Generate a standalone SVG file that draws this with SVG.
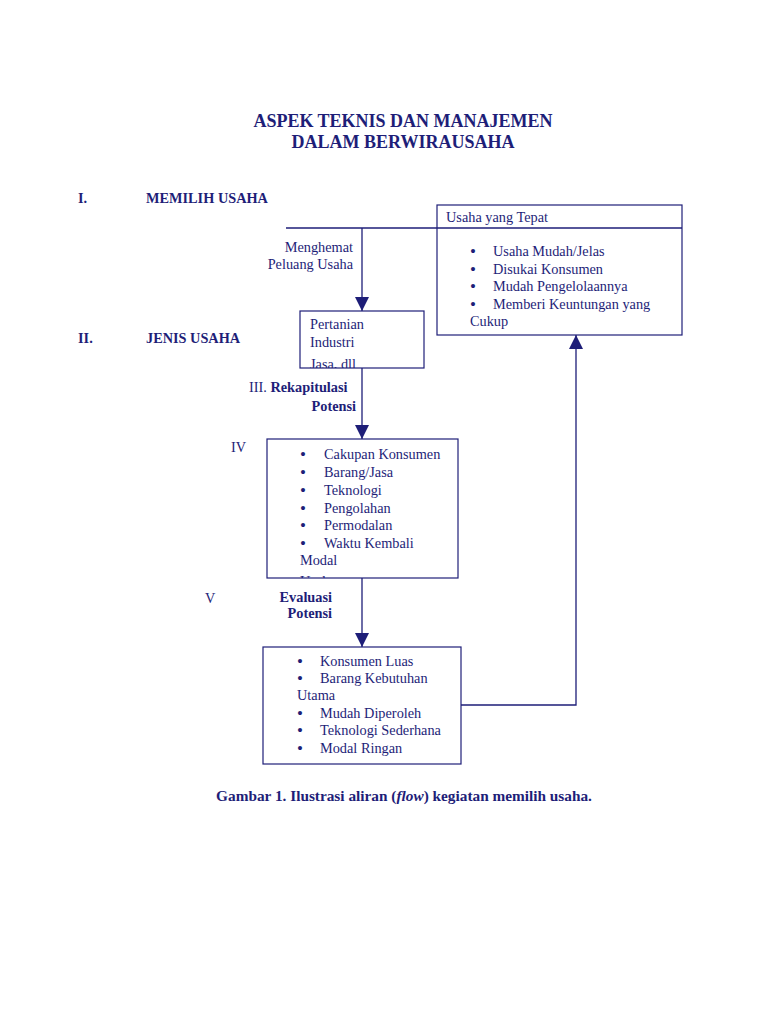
<svg xmlns="http://www.w3.org/2000/svg" width="768" height="1024" viewBox="0 0 768 1024">
<style>
text{font-family:"Liberation Serif","Times New Roman",serif;fill:#1e1e78;font-size:14.3px}
.b{font-weight:bold}
.t{font-weight:bold;font-size:18px}
.c{font-weight:bold;font-size:15.3px}
.r{text-anchor:end}
.d{font-size:17px}
.box{fill:#fff;stroke:#1e1e78;stroke-width:1.2}
.ln{fill:none;stroke:#1e1e78;stroke-width:1.3}
</style>
<defs>
<marker id="ah" viewBox="0 0 14 14" refX="14" refY="7" markerWidth="14" markerHeight="14" markerUnits="userSpaceOnUse" orient="auto">
<path d="M0,0 L14,7 L0,14 Z" fill="#1e1e78"/>
</marker>
<clipPath id="c1"><rect x="300" y="311" width="124" height="57"/></clipPath>
<clipPath id="c2"><rect x="267" y="439" width="191" height="139"/></clipPath>
</defs>
<rect width="768" height="1024" fill="#fff"/>
<g id="title">
<text class="t" x="403" y="127" text-anchor="middle">ASPEK TEKNIS DAN MANAJEMEN</text>
<text class="t" x="403" y="148" text-anchor="middle">DALAM BERWIRAUSAHA</text>
</g>
<g id="labels">
<text class="b" x="78" y="203">I.</text>
<text class="b" x="146" y="203">MEMILIH USAHA</text>
<text class="b" x="78" y="343">II.</text>
<text class="b" x="146" y="343">JENIS USAHA</text>
<text class="r" x="353" y="252">Menghemat</text>
<text class="r" x="353" y="269">Peluang Usaha</text>
<text x="249" y="392">III. <tspan class="b">Rekapitulasi</tspan></text>
<text class="b r" x="356" y="411">Potensi</text>
<text x="231" y="452">IV</text>
<text x="205" y="603">V</text>
<text class="b r" x="332" y="602">Evaluasi</text>
<text class="b r" x="332" y="618">Potensi</text>
</g>
<g id="connectors">
<path class="ln" d="M286,228 H437"/>
<path class="ln" d="M362,228 V311" marker-end="url(#ah)"/>
<path class="ln" d="M362,368 V439" marker-end="url(#ah)"/>
<path class="ln" d="M362,578 V647" marker-end="url(#ah)"/>
<path class="ln" d="M461,705 H576 V335" marker-end="url(#ah)"/>
</g>
<g id="usaha-tepat">
<rect class="box" x="437" y="205" width="245" height="130"/>
<line class="ln" x1="437" y1="228" x2="682" y2="228"/>
<text x="446" y="222">Usaha yang Tepat</text>
<text class="d" x="470" y="257">•</text><text x="493" y="256">Usaha Mudah/Jelas</text>
<text class="d" x="470" y="275">•</text><text x="493" y="274">Disukai Konsumen</text>
<text class="d" x="470" y="292">•</text><text x="493" y="291">Mudah Pengelolaannya</text>
<text class="d" x="470" y="310">•</text><text x="493" y="309">Memberi Keuntungan yang</text>
<text x="470" y="326">Cukup</text>
</g>
<g id="jenis-usaha">
<rect class="box" x="300" y="311" width="124" height="57"/>
<g clip-path="url(#c1)">
<text x="310" y="329">Pertanian</text>
<text x="310" y="347">Industri</text>
<text x="310" y="369">Jasa, dll</text>
</g>
</g>
<g id="rekapitulasi">
<rect class="box" x="267" y="439" width="191" height="139"/>
<g clip-path="url(#c2)">
<text class="d" x="300" y="460">•</text><text x="324" y="459">Cakupan Konsumen</text>
<text class="d" x="300" y="478">•</text><text x="324" y="477">Barang/Jasa</text>
<text class="d" x="300" y="496">•</text><text x="324" y="495">Teknologi</text>
<text class="d" x="300" y="514">•</text><text x="324" y="513">Pengolahan</text>
<text class="d" x="300" y="531">•</text><text x="324" y="530">Permodalan</text>
<text class="d" x="300" y="549">•</text><text x="324" y="548">Waktu Kembali</text>
<text x="300" y="565">Modal</text>
<text x="300" y="586">Usaha</text>
</g>
</g>
<g id="evaluasi">
<rect class="box" x="263" y="647" width="198" height="117"/>
<text class="d" x="297" y="667">•</text><text x="320" y="666">Konsumen Luas</text>
<text class="d" x="297" y="684">•</text><text x="320" y="683">Barang Kebutuhan</text>
<text x="297" y="700">Utama</text>
<text class="d" x="297" y="719">•</text><text x="320" y="718">Mudah Diperoleh</text>
<text class="d" x="297" y="736">•</text><text x="320" y="735">Teknologi Sederhana</text>
<text class="d" x="297" y="754">•</text><text x="320" y="753">Modal Ringan</text>
</g>
<g id="caption">
<text class="c" x="404" y="801" text-anchor="middle">Gambar 1. Ilustrasi aliran (<tspan font-style="italic">flow</tspan>) kegiatan memilih usaha.</text>
</g>
</svg>
